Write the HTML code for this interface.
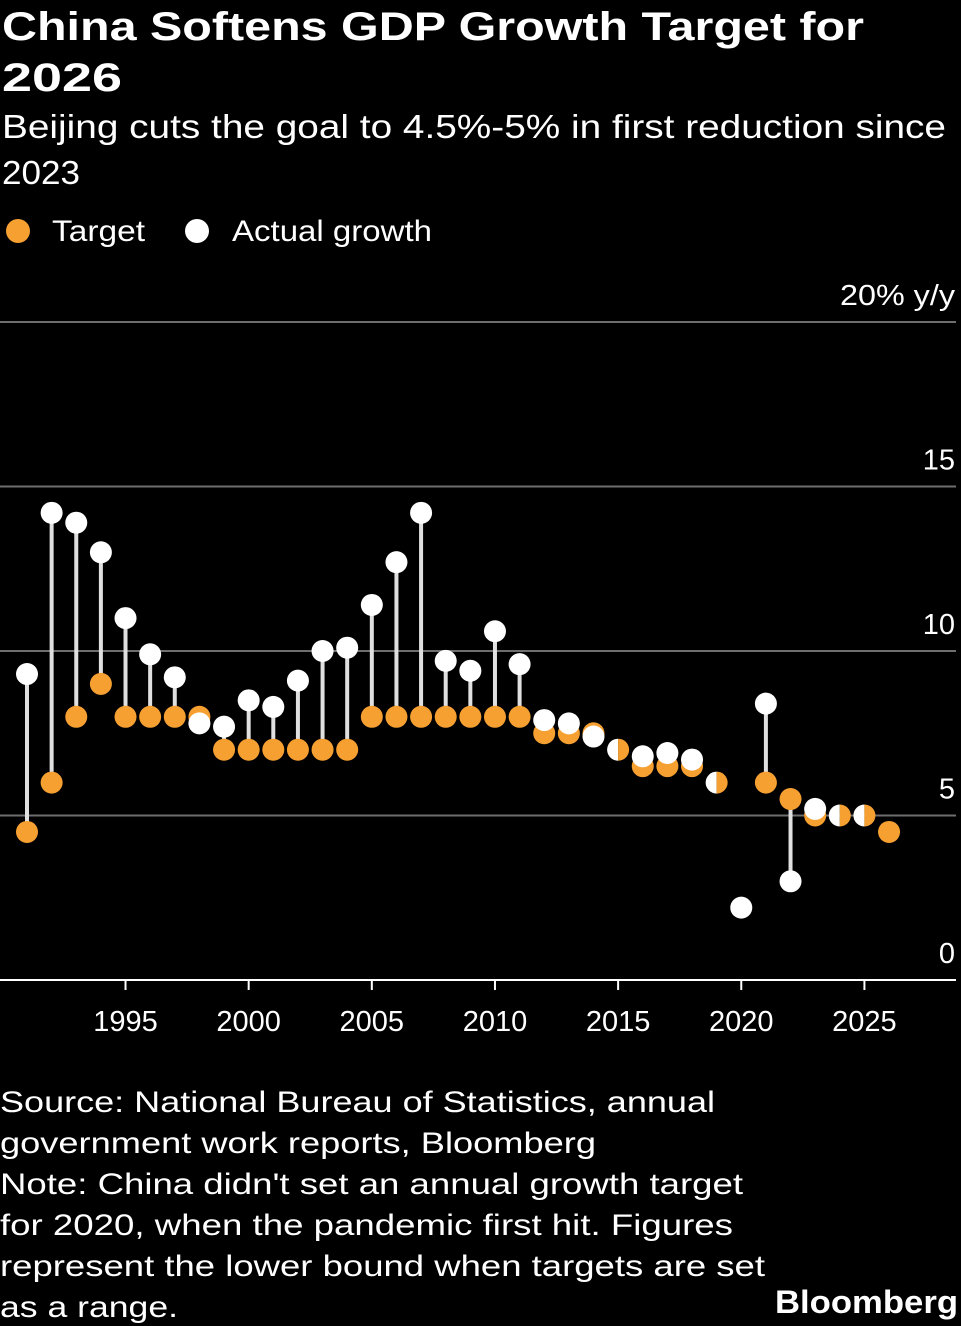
<!DOCTYPE html>
<html><head><meta charset="utf-8"><style>
html,body{margin:0;padding:0;background:#000;width:961px;height:1326px;overflow:hidden}
svg text{font-family:"Liberation Sans",sans-serif;fill:#fff}
</style></head><body>
<svg id="c" width="961" height="1326">
<text x="2" y="40" font-size="40" font-weight="bold" textLength="862" lengthAdjust="spacingAndGlyphs">China Softens GDP Growth Target for</text>
<text x="2" y="91" font-size="40" font-weight="bold" textLength="120" lengthAdjust="spacingAndGlyphs">2026</text>
<text x="2" y="138" font-size="33" textLength="944" lengthAdjust="spacingAndGlyphs">Beijing cuts the goal to 4.5%-5% in first reduction since</text>
<text x="2" y="184" font-size="33" textLength="78" lengthAdjust="spacingAndGlyphs">2023</text>
<g>
<circle cx="18" cy="231" r="12" fill="#f7a032"/>
<text x="52" y="241" font-size="30" textLength="93" lengthAdjust="spacingAndGlyphs">Target</text>
<circle cx="197" cy="231" r="12" fill="#fff"/>
<text x="232" y="241" font-size="30" textLength="200" lengthAdjust="spacingAndGlyphs">Actual growth</text>
</g>
<g id="grid"></g><g id="stems"></g><g id="tdots"></g><g id="adots"></g>
<text font-size="30">
<tspan x="0" y="1112" textLength="715" lengthAdjust="spacingAndGlyphs">Source: National Bureau of Statistics, annual</tspan>
<tspan x="0" y="1153" textLength="596" lengthAdjust="spacingAndGlyphs">government work reports, Bloomberg</tspan>
<tspan x="0" y="1194" textLength="743" lengthAdjust="spacingAndGlyphs">Note: China didn't set an annual growth target</tspan>
<tspan x="0" y="1235" textLength="733" lengthAdjust="spacingAndGlyphs">for 2020, when the pandemic first hit. Figures</tspan>
<tspan x="0" y="1276" textLength="765" lengthAdjust="spacingAndGlyphs">represent the lower bound when targets are set</tspan>
<tspan x="0" y="1317" textLength="178" lengthAdjust="spacingAndGlyphs">as a range.</tspan>
</text>
<text x="775" y="1313" font-size="32" font-weight="bold" textLength="183" lengthAdjust="spacingAndGlyphs">Bloomberg</text>
</svg>
<script>
const years=[1991,1992,1993,1994,1995,1996,1997,1998,1999,2000,2001,2002,2003,2004,2005,2006,2007,2008,2009,2010,2011,2012,2013,2014,2015,2016,2017,2018,2019,2020,2021,2022,2023,2024,2025,2026];
const actual=[9.3,14.2,13.9,13.0,11.0,9.9,9.2,7.8,7.7,8.5,8.3,9.1,10.0,10.1,11.4,12.7,14.2,9.7,9.4,10.6,9.6,7.9,7.8,7.4,7.0,6.8,6.9,6.7,6.0,2.2,8.4,3.0,5.2,5.0,5.0,null];
const target=[4.5,6,8,9,8,8,8,8,7,7,7,7,7,7,8,8,8,8,8,8,8,7.5,7.5,7.5,7,6.5,6.5,6.5,6,null,6,5.5,5,5,5,4.5];
const yTicks=[0,5,10,15,20];
const yTickLabels=["0","5","10","15","20% y/y"];
const xTicks=[1995,2000,2005,2010,2015,2020,2025];
const NS="http://www.w3.org/2000/svg";
const X=y=>27+(y-1991)*24.63;
const Y=v=>980-v*32.9;
function mk(p,t,a){const e=document.createElementNS(NS,t);for(const k in a)e.setAttribute(k,a[k]);document.getElementById(p).appendChild(e);return e;}
yTicks.forEach((t,i)=>{
 const l=mk('grid','line',{x1:0,x2:956,y1:Y(t),y2:Y(t),stroke:t===0?'#fff':'#6e6e6e','stroke-width':2});
 
 
 const attrs={x:955,y:Y(t)-17,'text-anchor':'end','font-size':29};
 if(t===20){attrs.textLength=115;attrs.lengthAdjust='spacingAndGlyphs';}
 const tx=mk('grid','text',attrs);
 tx.textContent=yTickLabels[i];
 
 
});
xTicks.forEach(t=>{
 const l=mk('grid','line',{x1:X(t),x2:X(t),y1:980,y2:990,stroke:'#fff','stroke-width':2});
 
 
 const tx=mk('grid','text',{x:X(t),y:1031,'text-anchor':'middle','font-size':29});
 tx.textContent=t;
 
 
});
const R=11;
years.forEach((yr,i)=>{
 const a=actual[i],t=target[i],x=X(yr);
 if(a!=null&&t!=null&&a!==t){
  const s=mk('stems','line',{x1:x,x2:x,y1:Y(a),y2:Y(t),stroke:'#e0e0e0','stroke-width':4});
  
  
 }
 if(a!=null&&t!=null&&a===t){
  const y=Y(a);
  const w=mk('adots','path',{d:`M${x},${y-R}A${R},${R} 0 0 0 ${x},${y+R}Z`,fill:'#fff'});
  
  
  const o=mk('adots','path',{d:`M${x},${y-R}A${R},${R} 0 0 1 ${x},${y+R}Z`,fill:'#f7a032'});
  
  
  return;
 }
 if(t!=null){
  const c=mk('tdots','circle',{cx:x,cy:Y(t),r:R,fill:'#f7a032'});
  
  
 }
 if(a!=null){
  const c=mk('adots','circle',{cx:x,cy:Y(a),r:R,fill:'#fff'});
  
  
 }
});
</script>
</body></html>
